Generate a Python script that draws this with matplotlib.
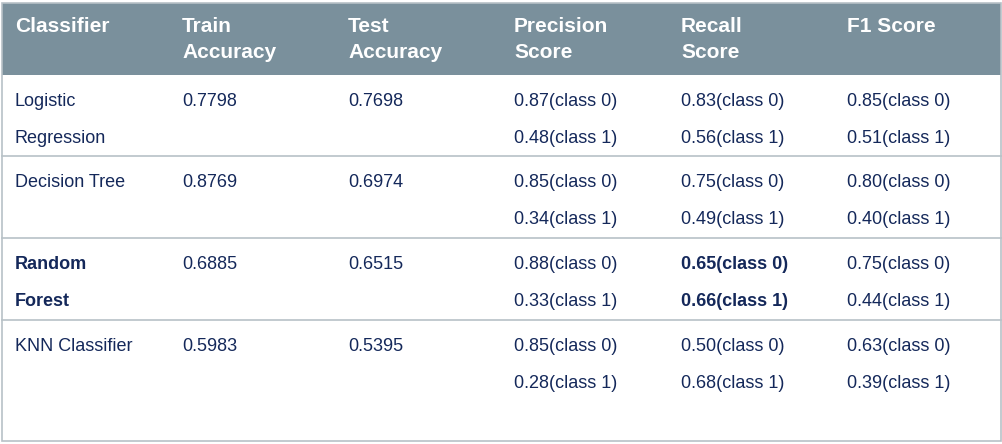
import matplotlib
matplotlib.use("Agg")
import matplotlib.pyplot as plt

headers = [["Classifier"], ["Train", "Accuracy"], ["Test", "Accuracy"],
           ["Precision", "Score"], ["Recall", "Score"], ["F1 Score"]]
classifiers = [["Logistic", "Regression"], ["Decision Tree"], ["Random", "Forest"], ["KNN Classifier"]]
train_acc = ["0.7798", "0.8769", "0.6885", "0.5983"]
test_acc = ["0.7698", "0.6974", "0.6515", "0.5395"]
precision = [["0.87(class 0)", "0.48(class 1)"], ["0.85(class 0)", "0.34(class 1)"],
             ["0.88(class 0)", "0.33(class 1)"], ["0.85(class 0)", "0.28(class 1)"]]
recall = [["0.83(class 0)", "0.56(class 1)"], ["0.75(class 0)", "0.49(class 1)"],
          ["0.65(class 0)", "0.66(class 1)"], ["0.50(class 0)", "0.68(class 1)"]]
f1 = [["0.85(class 0)", "0.51(class 1)"], ["0.80(class 0)", "0.40(class 1)"],
      ["0.75(class 0)", "0.44(class 1)"], ["0.63(class 0)", "0.39(class 1)"]]
bold_rows_name = [False, False, True, False]
bold_recall = [False, False, True, False]

W, H = 1003, 444
fig = plt.figure(figsize=(W/100, H/100), dpi=100)
ax = fig.add_axes([0, 0, 1, 1])
ax.set_xlim(0, W); ax.set_ylim(H, 0); ax.axis("off")

navy = "#14285a"
hdr = "#7a909c"
grid = "#b7c1c7"
colx = [15, 182, 348, 514, 681, 847]
font = "Liberation Sans"

ax.add_patch(plt.Rectangle((2, 3), W - 4, 72, color=hdr, lw=0))
ax.add_patch(plt.Rectangle((2, 3), W - 4, 438, fill=False, ec=grid, lw=1.2))
for i, h in enumerate(headers):
    for j, t in enumerate(h):
        ax.text(colx[i], 26 + 27 * j, t, color="white", fontsize=15, fontweight="bold",
                family=font, va="center")

row_top = [75, 156, 238, 320]
for r in range(4):
    if r > 0:
        ax.plot([2, W - 2], [row_top[r], row_top[r]], color=grid, lw=1.2)
    y0 = row_top[r] + 26
    for j, t in enumerate(classifiers[r]):
        ax.text(colx[0], y0 + 37 * j, t, color=navy, fontsize=13, family=font, va="center",
                fontweight="bold" if bold_rows_name[r] else "normal")
    ax.text(colx[1], y0, train_acc[r], color=navy, fontsize=13, family=font, va="center")
    ax.text(colx[2], y0, test_acc[r], color=navy, fontsize=13, family=font, va="center")
    for c, vals, b in [(3, precision[r], False), (4, recall[r], bold_recall[r]), (5, f1[r], False)]:
        for j, t in enumerate(vals):
            ax.text(colx[c], y0 + 37 * j, t, color=navy, fontsize=13, family=font, va="center",
                    fontweight="bold" if b else "normal")

fig.savefig("out.png", dpi=100)
